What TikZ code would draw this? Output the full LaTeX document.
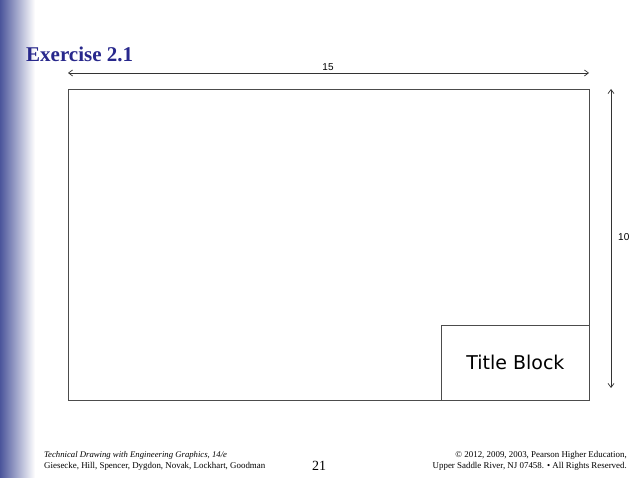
\documentclass[tikz,border=0pt]{standalone}
\usepackage{fontspec}
\setmainfont{Liberation Serif}
\newfontfamily\arialfont{Liberation Sans}
\newfontfamily\tahfont{DejaVu Sans}
\usetikzlibrary{arrows.meta}
\definecolor{titleblue}{RGB}{40,40,140}
\definecolor{barblue}{RGB}{75,85,155}
\tikzset{
  frame/.style={draw=black!70, line width=0.8pt},
  dimline/.style={draw=black!80, line width=0.7pt, {Straight Barb[length=4pt,width=6pt]}-{Straight Barb[length=4pt,width=6pt]}},
  dimlabel/.style={font=\arialfont\fontsize{10}{11}\selectfont, inner sep=0pt}
}
\begin{document}
\begin{tikzpicture}[x=1pt,y=-1pt]
\useasboundingbox (0,0) rectangle (638,478);
\fill[white] (0,0) rectangle (638,478);
\shade[left color=barblue, right color=white] (0,0) rectangle (35,478);
\node[anchor=base west, inner sep=0pt, text=titleblue, font=\bfseries\fontsize{21}{24}\selectfont] (title) at (26,62) {Exercise 2.1};
% drawing sheet
\node[frame, minimum width=521pt, minimum height=311pt, anchor=north west, inner sep=0pt] (sheet) at (68,89) {};
\node[frame, minimum width=148pt, minimum height=75pt, anchor=south east, inner sep=0pt, font=\tahfont\fontsize{19}{22}\selectfont] (tb) at (sheet.south east) {Title Block};
% dimensions
\coordinate (hl) at (68,73);
\coordinate (hr) at (589,73);
\draw[dimline] (hl) -- (hr);
\node[dimlabel, anchor=base] (w) at (328,71) {15};
\coordinate (vt) at (611,89);
\coordinate (vb) at (611,388);
\draw[dimline] (vt) -- (vb);
\node[dimlabel, anchor=west] (h) at (618,237) {10};
% footer
\node[anchor=base west, inner sep=0pt, font=\itshape\fontsize{8.7}{10}\selectfont] (f1) at (44,458) {Technical Drawing with Engineering Graphics, 14/e};
\node[anchor=base west, inner sep=0pt, font=\fontsize{8.9}{10}\selectfont] (f2) at (44,469) {Giesecke, Hill, Spencer, Dygdon, Novak, Lockhart, Goodman};
\node[anchor=base, inner sep=0pt, font=\fontsize{14}{16}\selectfont] (pg) at (319,471) {21};
\node[anchor=base east, inner sep=0pt, font=\fontsize{8.9}{10}\selectfont] (f3) at (627,458) {\textcopyright{} 2012, 2009, 2003, Pearson Higher Education,};
\node[anchor=base east, inner sep=0pt, font=\fontsize{8.9}{10}\selectfont] (f4) at (627,469) {Upper Saddle River, NJ 07458. \textbullet{} All Rights Reserved.};
\end{tikzpicture}
\end{document}
